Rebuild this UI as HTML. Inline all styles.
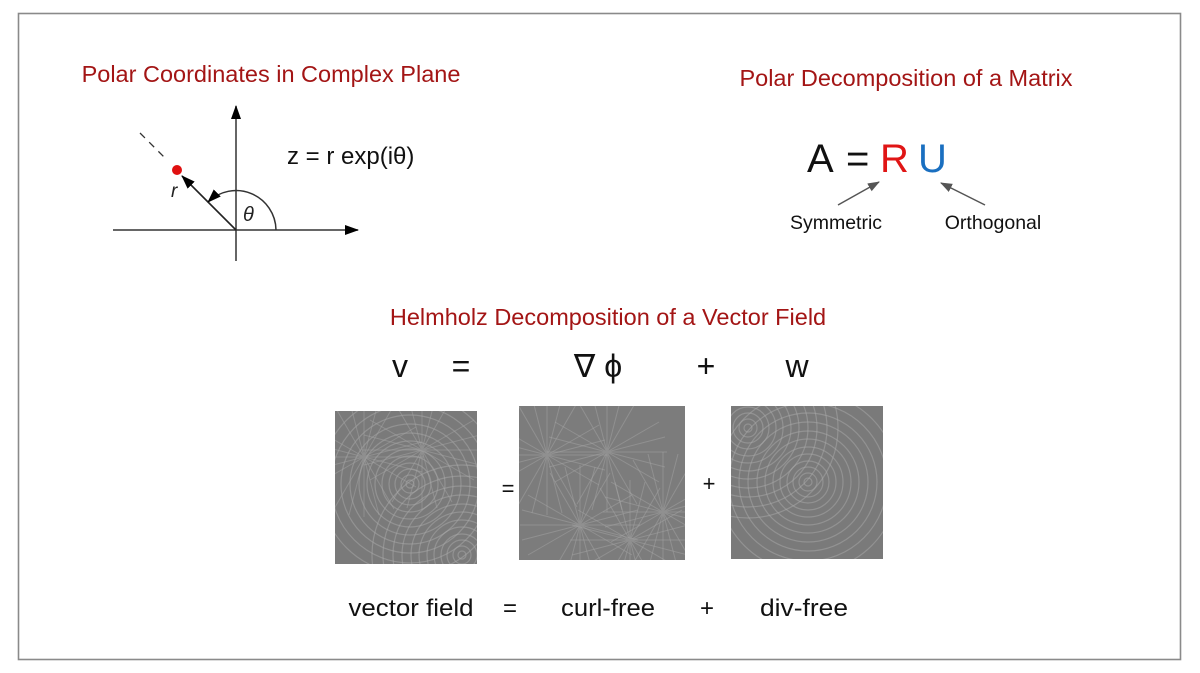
<!DOCTYPE html>
<html><head><meta charset="utf-8"><style>
html,body{margin:0;padding:0;background:#fff;width:1200px;height:673px;overflow:hidden}
svg{display:block}
text{font-family:"Liberation Sans",sans-serif}
</style></head><body>
<svg width="1200" height="673" viewBox="0 0 1200 673" xmlns="http://www.w3.org/2000/svg">
<defs>
<marker id="ah" markerWidth="14" markerHeight="12" refX="13" refY="6" orient="auto" markerUnits="userSpaceOnUse"><path d="M0,1 L14,6 L0,11 z" fill="#000"/></marker>
<marker id="ag" markerWidth="12" markerHeight="10" refX="11" refY="5" orient="auto" markerUnits="userSpaceOnUse"><path d="M0,0.5 L12,5 L0,9.5 z" fill="#555"/></marker>
<g id="sw1" fill="none" stroke="#aaa" stroke-width="1.2" opacity="0.5">
<circle r="4"/><circle r="9"/><circle r="15"/><circle r="21"/><circle r="28"/><circle r="35"/><circle r="43"/><circle r="51"/><circle r="60"/><circle r="69"/><circle r="79"/><circle r="90"/>
</g>
<g id="rad" stroke="#a5a5a5" stroke-width="1" opacity="0.5">
<path d="M0,0 L60,0 M0,0 L52,30 M0,0 L30,52 M0,0 L0,60 M0,0 L-30,52 M0,0 L-52,30 M0,0 L-60,0 M0,0 L-52,-30 M0,0 L-30,-52 M0,0 L0,-60 M0,0 L30,-52 M0,0 L52,-30 M0,0 L58,15 M0,0 L15,58 M0,0 L-15,58 M0,0 L-58,15 M0,0 L-58,-15 M0,0 L-15,-58 M0,0 L15,-58 M0,0 L58,-15"/>
</g>
<clipPath id="c1"><rect x="335" y="411" width="142" height="153"/></clipPath>
<clipPath id="c2"><rect x="519" y="406" width="166" height="154"/></clipPath>
<clipPath id="c3"><rect x="731" y="406" width="152" height="153"/></clipPath>
</defs>
<rect x="18.5" y="13.5" width="1162" height="646" fill="none" stroke="#8a8a8a" stroke-width="1.6"/>

<text x="271" y="82" font-size="23.5" fill="#a31515" text-anchor="middle">Polar Coordinates in Complex Plane</text>
<line x1="113" y1="230" x2="358" y2="230" stroke="#333" stroke-width="1.5" marker-end="url(#ah)"/>
<line x1="236" y1="261" x2="236" y2="106" stroke="#333" stroke-width="1.5" marker-end="url(#ah)"/>
<line x1="236" y1="230" x2="182" y2="176" stroke="#222" stroke-width="1.6" marker-end="url(#ah)"/>
<line x1="140" y1="133" x2="166" y2="159" stroke="#333" stroke-width="1.3" stroke-dasharray="7,6"/>
<circle cx="177" cy="170" r="5" fill="#e01010"/>
<path d="M276,230 A40,40 0 0 0 208,202" fill="none" stroke="#333" stroke-width="1.5" marker-end="url(#ah)"/>
<text x="171" y="197" font-size="19" font-style="italic" font-family="Liberation Serif,serif" fill="#222">r</text>
<text x="243" y="221" font-size="20" font-style="italic" font-family="Liberation Serif,serif" fill="#222">θ</text>
<text x="287" y="164" font-size="24" fill="#111">z = r exp(iθ)</text>

<text x="906" y="86" font-size="23.5" fill="#a31515" text-anchor="middle">Polar Decomposition of a Matrix</text>
<text x="807" y="172" font-size="40" fill="#111">A</text>
<text x="846" y="172" font-size="40" fill="#111">=</text>
<text x="880" y="172" font-size="40" fill="#e01515">R</text>
<text x="918" y="172" font-size="40" fill="#1a6fc0">U</text>
<line x1="838" y1="205" x2="879" y2="182" stroke="#555" stroke-width="1.5" marker-end="url(#ag)"/>
<line x1="985" y1="205" x2="941" y2="183" stroke="#555" stroke-width="1.5" marker-end="url(#ag)"/>
<text x="836" y="229" font-size="19.5" fill="#111" text-anchor="middle">Symmetric</text>
<text x="993" y="229" font-size="19.5" fill="#111" text-anchor="middle">Orthogonal</text>

<text x="608" y="325" font-size="23.5" fill="#a31515" text-anchor="middle">Helmholz Decomposition of a Vector Field</text>
<g font-size="32" fill="#111" text-anchor="middle">
<text x="400" y="377">v</text>
<text x="461" y="377">=</text>
<text x="598" y="377">∇ ϕ</text>
<text x="706" y="377">+</text>
<text x="797" y="377">w</text>
</g>

<g clip-path="url(#c1)">
<rect x="335" y="411" width="142" height="153" fill="#7a7a7a"/>
<use href="#sw1" x="410" y="484"/>
<use href="#rad" x="364" y="457"/>
<use href="#rad" x="422" y="450"/>
<use href="#sw1" x="462" y="555"/>
</g>
<g clip-path="url(#c2)">
<rect x="519" y="406" width="166" height="154" fill="#7c7c7c"/>
<use href="#rad" x="547" y="455"/>
<use href="#rad" x="607" y="452"/>
<use href="#rad" x="663" y="512"/>
<use href="#rad" x="580" y="525"/>
<use href="#rad" x="630" y="540"/>
</g>
<g clip-path="url(#c3)">
<rect x="731" y="406" width="152" height="153" fill="#7a7a7a"/>
<use href="#sw1" x="808" y="482"/>
<use href="#sw1" x="748" y="428"/>
</g>
<text x="508" y="496" font-size="22" fill="#111" text-anchor="middle">=</text>
<text x="709" y="491" font-size="22" fill="#111" text-anchor="middle">+</text>

<g font-size="24" fill="#111" text-anchor="middle">
<text x="411" y="616" textLength="125" lengthAdjust="spacingAndGlyphs">vector field</text>
<text x="510" y="616">=</text>
<text x="608" y="616" textLength="94" lengthAdjust="spacingAndGlyphs">curl-free</text>
<text x="707" y="616">+</text>
<text x="804" y="616" textLength="88" lengthAdjust="spacingAndGlyphs">div-free</text>
</g>
</svg>
</body></html>
